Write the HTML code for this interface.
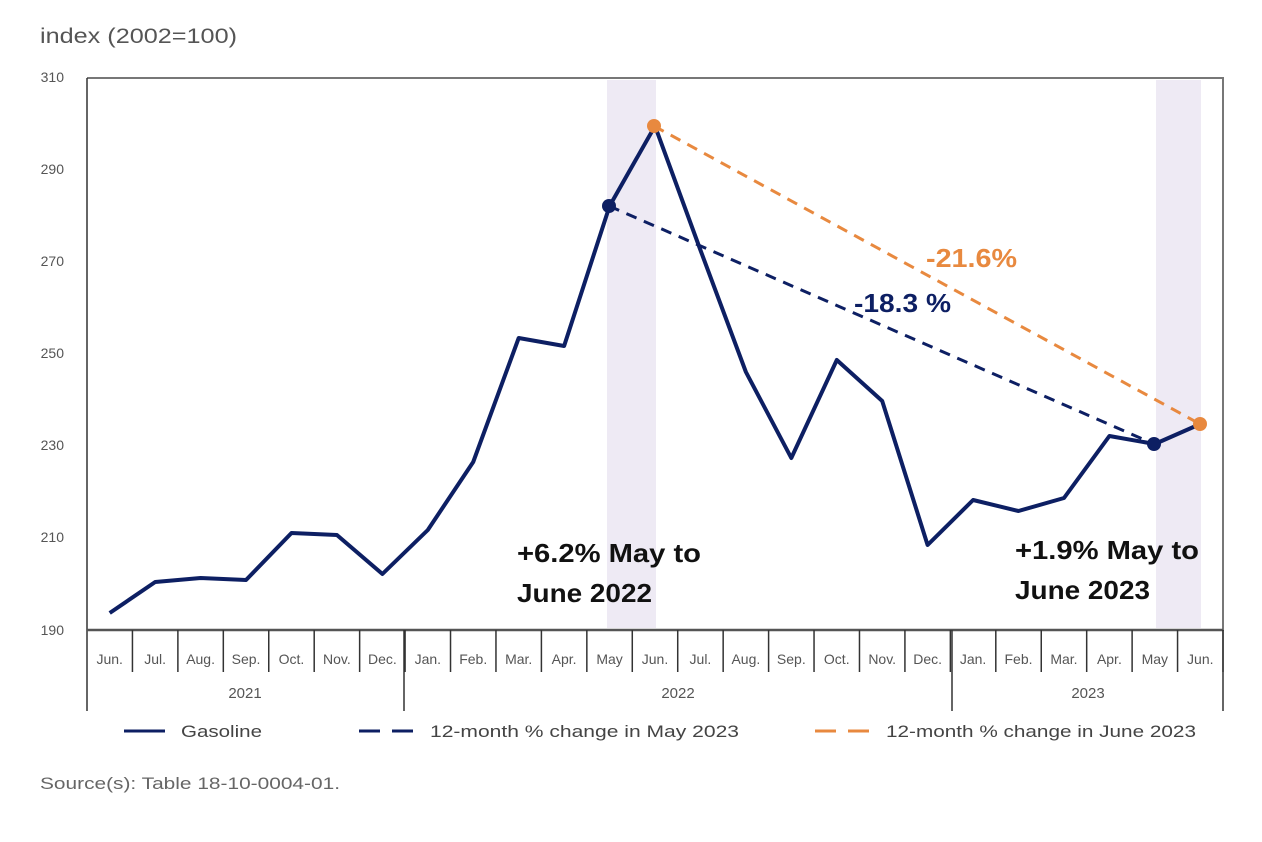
<!DOCTYPE html>
<html><head><meta charset="utf-8"><style>
body{margin:0;background:#fff;}
svg{display:block;font-family:"Liberation Sans",sans-serif;}
</style></head><body>
<svg width="1262" height="842" viewBox="0 0 1262 842">
<rect width="1262" height="842" fill="#fff"/>
<text x="40" y="43" font-size="21" fill="#555" textLength="197" lengthAdjust="spacingAndGlyphs">index (2002=100)</text>
<g font-size="14" fill="#555" text-anchor="end">
<text x="64" y="82">310</text><text x="64" y="174">290</text><text x="64" y="266">270</text>
<text x="64" y="358">250</text><text x="64" y="450">230</text><text x="64" y="542">210</text><text x="64" y="635">190</text>
</g>
<rect x="607" y="80" width="49" height="548" fill="#eeeaf4"/>
<rect x="1156" y="80" width="45" height="548" fill="#eeeaf4"/>
<path d="M87 78H1223V631" fill="none" stroke="#777" stroke-width="2"/>
<path d="M87 78V711" stroke="#333" stroke-width="1.5"/>
<path d="M87 630H1223" stroke="#555" stroke-width="2.5"/>
<g stroke="#333" stroke-width="1.5" id="ticks"></g>
<g id="mlab" font-size="14" fill="#555" text-anchor="middle"></g>
<path d="M404 630V711M952 630V711M1223 630V711" stroke="#333" stroke-width="1.5"/>
<g font-size="15" fill="#555" text-anchor="middle">
<text x="245" y="698">2021</text><text x="678" y="698">2022</text><text x="1088" y="698">2023</text>
</g>
<line x1="609" y1="206" x2="1154" y2="444" stroke="#0d1f63" stroke-width="3" stroke-dasharray="11,8"/>
<line x1="654" y1="126" x2="1200" y2="424" stroke="#e8893f" stroke-width="3" stroke-dasharray="11,8"/>
<polyline id="ln" fill="none" stroke="#0d1f63" stroke-width="4" stroke-linejoin="round"/>
<circle cx="609" cy="206" r="7" fill="#0d1f63"/>
<circle cx="1154" cy="444" r="7" fill="#0d1f63"/>
<circle cx="654" cy="126" r="7" fill="#e8893f"/>
<circle cx="1200" cy="424" r="7" fill="#e8893f"/>
<text x="926" y="267" font-size="26" font-weight="bold" fill="#e8893f" textLength="91" lengthAdjust="spacingAndGlyphs">-21.6%</text>
<text x="854" y="312" font-size="26" font-weight="bold" fill="#0d1f63" textLength="97" lengthAdjust="spacingAndGlyphs">-18.3 %</text>
<g font-size="26" font-weight="bold" fill="#111">
<text x="517" y="562" textLength="184" lengthAdjust="spacingAndGlyphs">+6.2% May to</text><text x="517" y="602" textLength="135" lengthAdjust="spacingAndGlyphs">June 2022</text>
<text x="1015" y="559" textLength="184" lengthAdjust="spacingAndGlyphs">+1.9% May to</text><text x="1015" y="599" textLength="135" lengthAdjust="spacingAndGlyphs">June 2023</text>
</g>
<line x1="124" y1="731" x2="165" y2="731" stroke="#0d1f63" stroke-width="3"/>
<text x="181" y="737" font-size="17" fill="#444" textLength="81" lengthAdjust="spacingAndGlyphs">Gasoline</text>
<line x1="359" y1="731" x2="413" y2="731" stroke="#0d1f63" stroke-width="3" stroke-dasharray="21,12"/>
<text x="430" y="737" font-size="17" fill="#444" textLength="309" lengthAdjust="spacingAndGlyphs">12-month % change in May 2023</text>
<line x1="815" y1="731" x2="869" y2="731" stroke="#e8893f" stroke-width="3" stroke-dasharray="21,12"/>
<text x="886" y="737" font-size="17" fill="#444" textLength="310" lengthAdjust="spacingAndGlyphs">12-month % change in June 2023</text>
<text x="40" y="789" font-size="17" fill="#666" textLength="300" lengthAdjust="spacingAndGlyphs">Source(s): Table 18-10-0004-01.</text>
</svg>
<script>
var w=45.44,x0=87;
var months=["Jun.","Jul.","Aug.","Sep.","Oct.","Nov.","Dec.","Jan.","Feb.","Mar.","Apr.","May","Jun.","Jul.","Aug.","Sep.","Oct.","Nov.","Dec.","Jan.","Feb.","Mar.","Apr.","May","Jun."];
var ys=[613,582,578,580,533,535,574,530,462,338,346,206,126,250,372,458,360,401,545,500,511,498,436,444,424];
var ns="http://www.w3.org/2000/svg",t=document.getElementById("ticks"),m=document.getElementById("mlab"),pts=[];
for(var i=0;i<25;i++){var xc=x0+w*(i+0.5);pts.push(xc.toFixed(1)+","+ys[i]);
var l=document.createElementNS(ns,"line");var xb=x0+w*(i+1);l.setAttribute("x1",xb);l.setAttribute("x2",xb);l.setAttribute("y1",630);l.setAttribute("y2",672);t.appendChild(l);
var tx=document.createElementNS(ns,"text");tx.setAttribute("x",xc);tx.setAttribute("y",664);tx.textContent=months[i];m.appendChild(tx);}
document.getElementById("ln").setAttribute("points",pts.join(" "));
</script>
</body></html>
